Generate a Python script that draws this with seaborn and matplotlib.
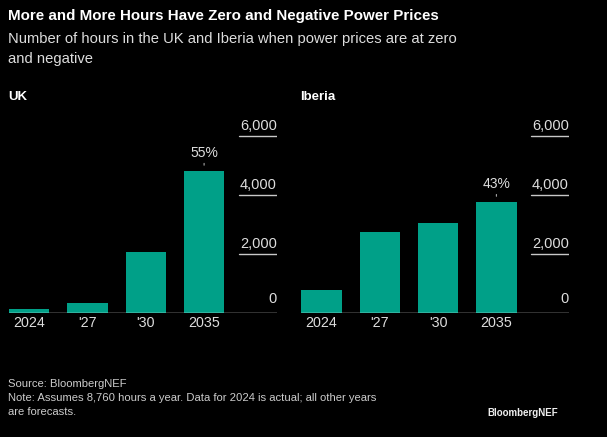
import pandas as pd
import numpy as np
from matplotlib import pyplot as plt
import seaborn as sns

# data
years = ['2024', "'27", "'30", '2035']
uk_hours = [150, 340, 2070, 4818]
iberia_hours = [777, 2748, 3040, 3767]
uk_share_2035 = '55%'
iberia_share_2035 = '43%'
y_ticks = [0, 2000, 4000, 6000]

bar_color = '#00A088'
bg = '#000000'
text_light = '#DDDDDD'

sns.set_style('dark')
plt.rcParams['font.family'] = ['Liberation Sans', 'DejaVu Sans']
plt.rcParams['figure.facecolor'] = bg
plt.rcParams['axes.facecolor'] = bg

fig = plt.figure(figsize=(6.07, 4.37), dpi=100)

fig.text(8 / 607, 1 - 9 / 437, 'More and More Hours Have Zero and Negative Power Prices',
         color='white', fontsize=10.9, fontweight='bold', va='top', ha='left')
fig.text(8 / 607, 1 - 32 / 437,
         'Number of hours in the UK and Iberia when power prices are at zero\nand negative',
         color=text_light, fontsize=10.6, va='top', ha='left', linespacing=1.5)

panels = [
    ('UK', uk_hours, uk_share_2035, 9 / 607),
    ('Iberia', iberia_hours, iberia_share_2035, 301.3 / 607),
]

x_lo, x_hi = -0.345, 4.245
grid_start = 3.60

for label, vals, share, left in panels:
    ax = fig.add_axes([left, (437 - 313.3) / 437, 267.7 / 607, (313.3 - 121) / 437])
    df = pd.DataFrame({'year': years, 'hours': vals})
    sns.barplot(data=df, x='year', y='hours', color=bar_color, width=0.69,
                saturation=1, ax=ax, linewidth=0)
    ax.set_xlim(x_lo, x_hi)
    ax.set_ylim(0, 6500)
    ax.set_xlabel('')
    ax.set_ylabel('')
    ax.set_yticks([])
    ax.tick_params(axis='x', length=0, pad=2, colors=text_light, labelsize=10.3)
    ax.grid(False)
    for s in ax.spines.values():
        s.set_visible(False)

    ax.axhline(0, color='white', lw=1, zorder=3)
    frac = (grid_start - x_lo) / (x_hi - x_lo)
    for t in y_ticks:
        if t > 0:
            ax.axhline(t, xmin=frac, xmax=1, color='#C8C8C8', lw=1)
        ax.annotate(f'{t:,}', xy=(x_hi, t), xytext=(0, 5 if t == 0 else 2.3),
                    textcoords='offset points', ha='right', va='bottom',
                    color=text_light, fontsize=10.5)

    ax.annotate(share, xy=(3, vals[3]), xytext=(0, 8), textcoords='offset points',
                ha='center', va='bottom', color=text_light, fontsize=10)
    ax.annotate('', xy=(3, vals[3]), xytext=(3, vals[3] + 250),
                arrowprops=dict(arrowstyle='-', color='#AAAAAA', lw=0.8, shrinkA=0, shrinkB=4))

    fig.text(left - 1 / 607, 1 - 91 / 437, label, color='white', fontsize=9.5,
             fontweight='bold', va='top', ha='left')

fig.text(8 / 607, 1 - 379 / 437,
         'Source: BloombergNEF\nNote: Assumes 8,760 hours a year. Data for 2024 is actual; all other years\nare forecasts.',
         color='#CCCCCC', fontsize=8.1, va='top', ha='left', linespacing=1.5)
fig.text(558 / 607, 1 - 413 / 437, 'BloombergNEF', color='#EEEEEE', fontsize=7.0,
         fontweight='bold', va='center', ha='right')

plt.savefig('out.png', dpi=100, facecolor=bg)
